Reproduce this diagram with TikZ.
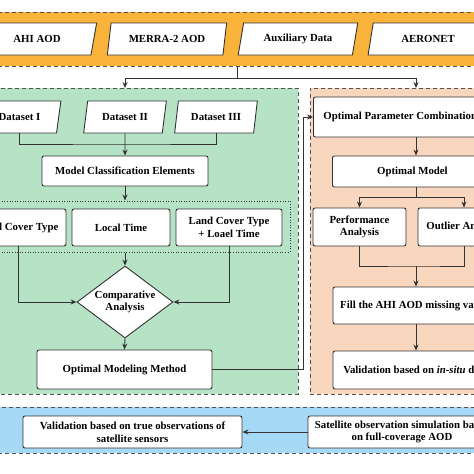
\documentclass[tikz,border=0pt]{standalone}
\usepackage{fontspec}
\setmainfont{Liberation Serif}
\usetikzlibrary{shapes.geometric,arrows.meta}
\definecolor{bandor}{HTML}{F9B23A}
\definecolor{greenbg}{HTML}{B6E3C6}
\definecolor{peachbg}{HTML}{F9D7BE}
\definecolor{bluebg}{HTML}{A5D9F6}
\definecolor{ink}{HTML}{333333}
\begin{document}
\begin{tikzpicture}[x=1pt,y=-1pt,
  font=\fontsize{10.8}{12.5}\selectfont\bfseries,
  box/.style={draw=ink, line width=0.9pt, fill=white, rounded corners=2pt, align=center, inner sep=0pt},
  para/.style={trapezium, trapezium left angle=71, trapezium right angle=109, trapezium stretches=true,
    draw=ink, fill=white, line width=0.9pt, inner sep=0pt, minimum height=32pt},
  conn/.style={draw=ink, line width=0.9pt},
  arr/.style={conn, -{Stealth[length=6pt,width=5pt]}},
  region/.style={draw=ink!85, line width=0.9pt, dash pattern=on 4pt off 3pt, inner sep=0pt},
  dotbox/.style={draw=ink, line width=1pt, dash pattern=on 1pt off 1.6pt, inner sep=0pt}]
\useasboundingbox (0,0) rectangle (474,474);
\clip (0,0) rectangle (474,474);
\fill[white] (0,0) rectangle (474,474);

% top band
\node[fill=bandor, inner sep=0pt, minimum width=520pt, minimum height=54pt, anchor=north] (band) at (237,12) {};
\draw[region] (band.north west) -- (band.north east);
\draw[region] (band.south west) -- (band.south east);
\node[para, minimum width=120pt] (ahi) at (37,39) {AHI AOD};
\node[para, minimum width=120pt] (merra) at (167,39) {MERRA-2 AOD};
\node[para, minimum width=120pt] (aux) at (298,39) {Auxiliary Data};
\node[para, minimum width=120pt] (aeronet) at (428,39) {AERONET};

% regions
\node[region, fill=greenbg, minimum width=318pt, minimum height=306pt, anchor=north west] (greenreg) at (-20,88) {};
\node[region, fill=peachbg, minimum width=180pt, minimum height=306pt, anchor=north west] (orangereg) at (310,88) {};
\node[region, fill=bluebg, minimum width=520pt, minimum height=46pt, anchor=north] (bluereg) at (237,407) {};

% left column
\node[para, minimum width=83pt] (d1) at (19.5,117) {Dataset I};
\node[para, minimum width=83pt] (d2) at (125,117) {Dataset II};
\node[para, minimum width=83pt] (d3) at (216,117) {Dataset III};
\node[box, minimum width=166pt, minimum height=30pt] (mce) at (125,171) {Model Classification Elements};
\node[dotbox, minimum width=330pt, minimum height=51pt] (elems) at (125,226.5) {};
\node[box, minimum width=96pt, minimum height=37pt] (lct) at (18,227.5) {Land Cover Type};
\node[box, minimum width=98pt, minimum height=37pt] (lt) at (121,227.5) {Local Time};
\node[box, minimum width=106pt, minimum height=37pt] (lclt) at (229,227.5) {Land Cover Type\\+ Loael Time};
\node[diamond, draw=ink, line width=0.9pt, fill=white, inner sep=0pt, aspect=1.33,
  minimum width=96pt, minimum height=72pt, align=center] (cmp) at (125,302) {Comparative\\Analysis};
\node[box, minimum width=175pt, minimum height=39pt] (omm) at (124.5,369.5) {Optimal Modeling Method};

% right column
\node[box, inner xsep=10pt, minimum height=40pt, anchor=west] (opc) at (313,117) {Optimal Parameter Combination};
\node[box, minimum width=160pt, minimum height=31pt, anchor=west] (om) at (332,171.5) {Optimal Model};
\node[box, minimum width=93pt, minimum height=38pt] (pa) at (359.5,227) {Performance\\Analysis};
\node[box, minimum width=92pt, minimum height=38pt] (oa) at (464,227) {Outlier Analysis};
\node[box, minimum width=166pt, minimum height=37pt] (fillv) at (416,305.5) {Fill the AHI AOD missing values};
\node[box, minimum width=166pt, minimum height=38pt] (val) at (416,370) {Validation based on \textit{in-situ} data};

% bottom
\node[box, minimum width=219pt, minimum height=32pt] (vtrue) at (132.5,432) {Validation based on true observations of\\satellite sensors};
\node[box, minimum width=188pt, minimum height=32pt] (sat) at (402,432) {Satellite observation simulation based\\on full-coverage AOD};

% connectors
\coordinate (split) at (237,78);
\coordinate (rx) at (416,0);
\coordinate (gap) at (303,0);
\coordinate (dj) at (125,144);
\coordinate (j2) at (416,266);
\draw[conn] (band.south) -- (split);
\draw[arr] (split) -| (greenreg.north -| mce.north);
\draw[arr] (split) -| (orangereg.north -| rx);
\draw[conn] (d1.south) |- (dj) -| (d3.south);
\draw[arr] (d2.south) -- (mce.north);
\draw[arr] (mce.south) -- (elems.north);
\draw[arr] (elems.south) -- (cmp.north);
\draw[arr] (lct.south) |- (cmp.west);
\draw[arr] (lclt.south) |- (cmp.east);
\draw[arr] (cmp.south) -- (omm.north);
\draw[arr] (omm.east) -- (omm.east -| gap) |- (opc.west);
\draw[arr] (opc.south -| rx) -- (om.north -| rx);
\draw[conn] (om.south -| rx) -- ++(0,10) coordinate (s2);
\draw[arr] (s2) -| (pa.north);
\draw[arr] (s2) -| (oa.north);
\draw[conn] (pa.south) |- (j2) -| (oa.south);
\draw[arr] (j2) -- (fillv.north);
\draw[arr] (fillv.south) -- (val.north);
\draw[arr] (sat.west) -- (vtrue.east);
\end{tikzpicture}
\end{document}
